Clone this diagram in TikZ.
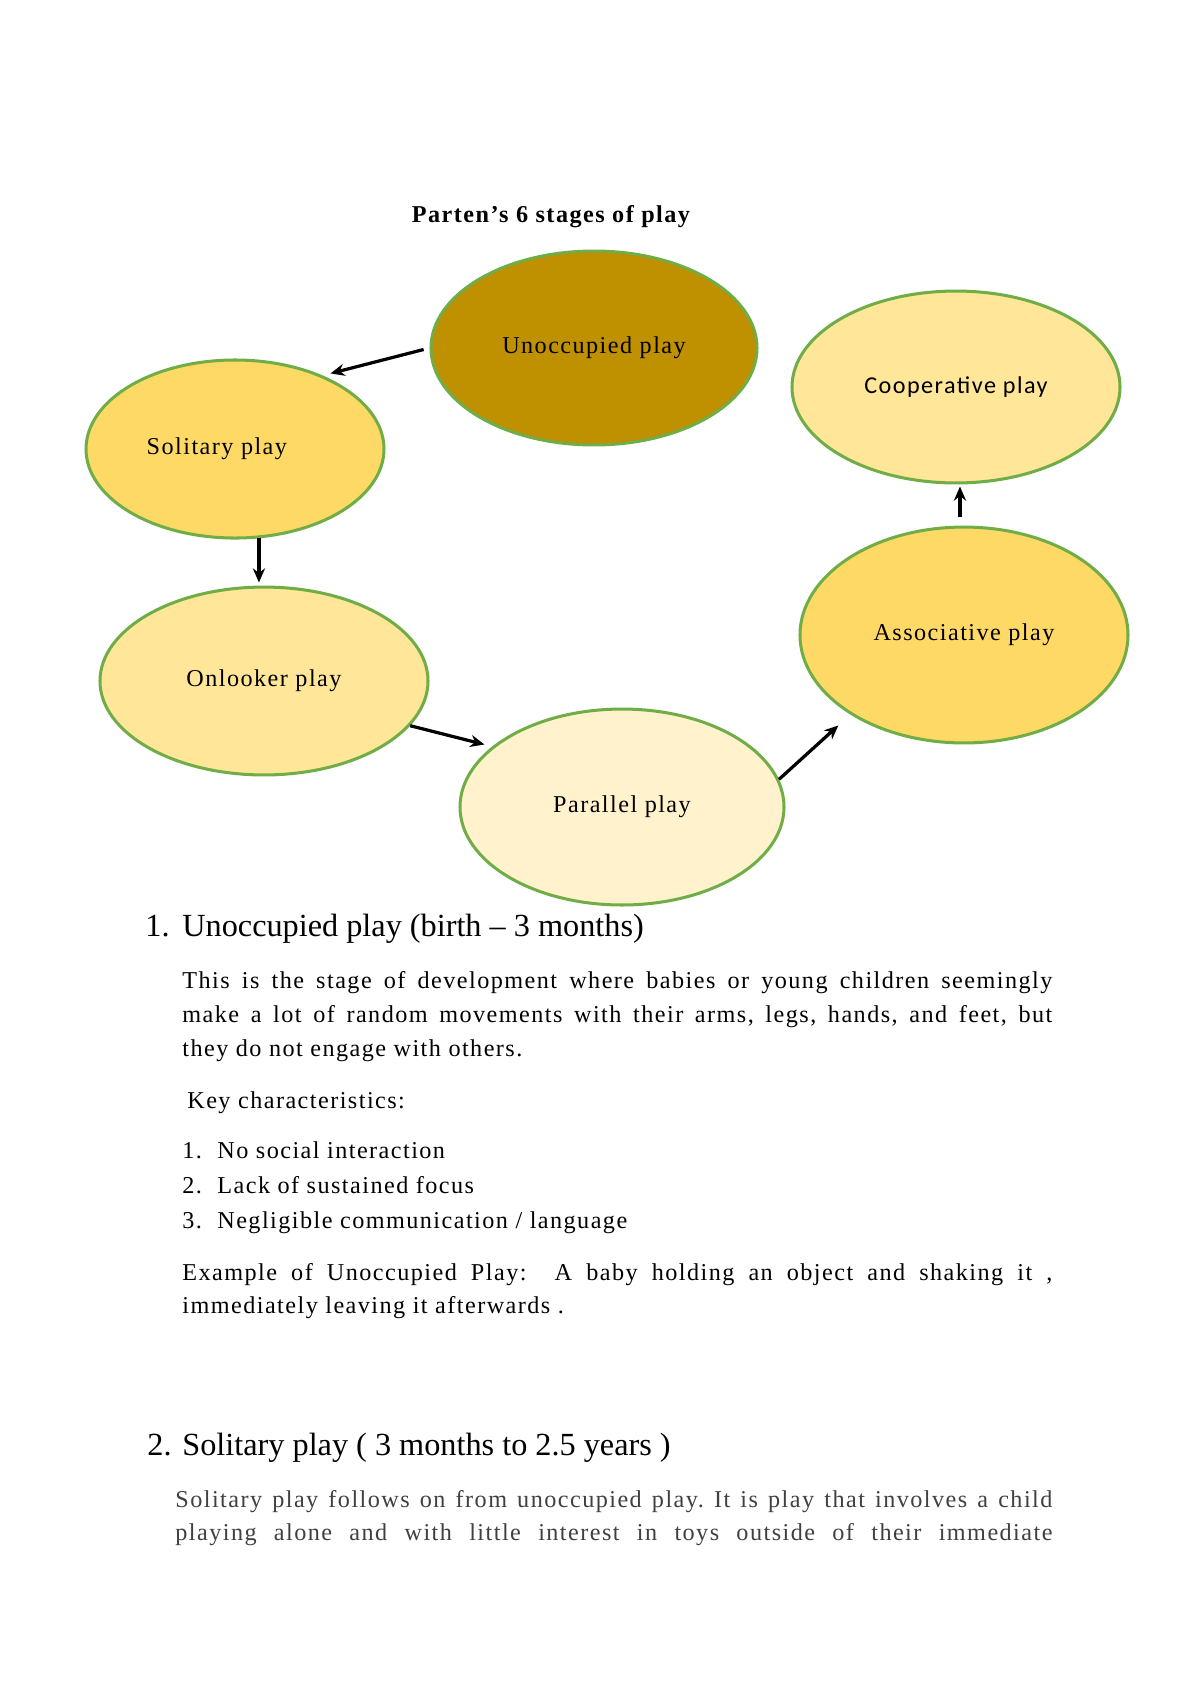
\documentclass[tikz,border=0pt]{standalone}
\usepackage{fontspec}
\setmainfont{Liberation Serif}
\newfontfamily\bodyfont{Liberation Serif}[LetterSpace=6]
\newfontfamily\coopfont{Carlito}[LetterSpace=6]
\usetikzlibrary{arrows.meta,shapes.geometric}

\definecolor{edgegreen}{HTML}{70AD47}
\definecolor{goldfill}{HTML}{BF9000}
\definecolor{yellowfill}{HTML}{FFD966}
\definecolor{lightfill}{HTML}{FFE699}
\definecolor{palefill}{HTML}{FFF2CC}

\tikzset{
    stage/.style={ellipse, draw=edgegreen, line width=1.5pt, inner sep=0pt, font=\bodyfont\fontsize{12}{14}\selectfont},
    flow/.style={-{Stealth[length=7pt,width=6pt]}, line width=1.6pt},
    body/.style={anchor=base west, inner sep=0pt, font=\bodyfont\fontsize{12}{17}\selectfont\frenchspacing},
    heading/.style={anchor=base west, inner sep=0pt, font=\fontsize{16}{19}\selectfont}
}

\begin{document}
\begin{tikzpicture}[x=0.496pt, y=-0.496pt]
            \path[fill=white, use as bounding box] (0,0) rectangle (1200,1696);

            \node[anchor=base, inner sep=0pt, font=\bodyfont\bfseries\fontsize{12}{14}\selectfont] (title) at (551,222) {Parten’s 6 stages of play};

            \node[stage, fill=goldfill, minimum width=161.7pt, minimum height=96.2pt] (unocc) at (594,348) {Unoccupied play};
            \node[stage, fill=lightfill, minimum width=162.7pt, minimum height=95.2pt, font=\coopfont\fontsize{12}{14}\selectfont] (coop) at (956,387) {Cooperative play};
            \node[stage, fill=yellowfill, minimum width=147.8pt, minimum height=88.3pt] (solit) at (235,449) {\hspace*{-18pt}Solitary play};
            \node[stage, fill=yellowfill, minimum width=162.7pt, minimum height=107.1pt] (assoc) at (964,635) {Associative play};
            \node[stage, fill=lightfill, minimum width=162.7pt, minimum height=93.2pt] (onlook) at (264,681) {Onlooker play};
            \node[stage, fill=palefill, minimum width=160.7pt, minimum height=97.2pt] (parall) at (622,807) {Parallel play};

            \draw[flow, shorten <=3pt, shorten >=4pt] (unocc.west) -- (solit.40);
            \draw[flow, shorten >=1.5pt] (solit.-75) -- (solit.-75 |- onlook.north);
            \draw[flow, shorten >=4pt] (onlook.-17) -- (parall.155);
            \draw[flow, shorten >=8pt] (parall.10) -- (assoc.215);
            \draw[flow, shorten <=4pt, shorten >=1pt] ([xshift=-2pt]assoc.north) -- ([xshift=-2pt]assoc.north |- coop.south);

            \node[heading] (h1num) at (145,936) {1.};
            \node[heading] (h1) at (182,936) {Unoccupied play (birth – 3 months)};
            \node[body, text width=431.5pt, align=justify] (intro) at (182,988) {This is the stage of development where babies or young children seemingly\linebreak make a lot of random movements with their arms, legs, hands, and feet, but\linebreak they do not engage with others.};
            \node[body] (keys) at (187,1108) {Key characteristics:};
            \node[body] (k1num) at (182,1158) {1.};
            \node[body] (k1) at (217,1158) {No social interaction};
            \node[body] (k2num) at (182,1193) {2.};
            \node[body] (k2) at (217,1193) {Lack of sustained focus};
            \node[body] (k3num) at (182,1228) {3.};
            \node[body] (k3) at (217,1228) {Negligible communication / language};
            \node[body, text width=431.5pt, align=justify, font=\bodyfont\fontsize{12}{16.5}\selectfont\frenchspacing] (sample) at (182,1280) {Example of Unoccupied Play:\ \ A baby holding an object and shaking it ,\linebreak immediately leaving it afterwards .};

            \node[heading] (h2num) at (147,1455) {2.};
            \node[heading] (h2) at (182,1455) {Solitary play ( 3 months to 2.5 years )};
            \node[body, text width=435pt, align=justify, text=black!75, font=\bodyfont\fontsize{12}{16.5}\selectfont\frenchspacing] (solo) at (175,1507) {Solitary play follows on from unoccupied play. It is play that involves a child\linebreak playing alone and with little interest in toys outside of their immediate\parfillskip=0pt\par};
\end{tikzpicture}
\end{document}
